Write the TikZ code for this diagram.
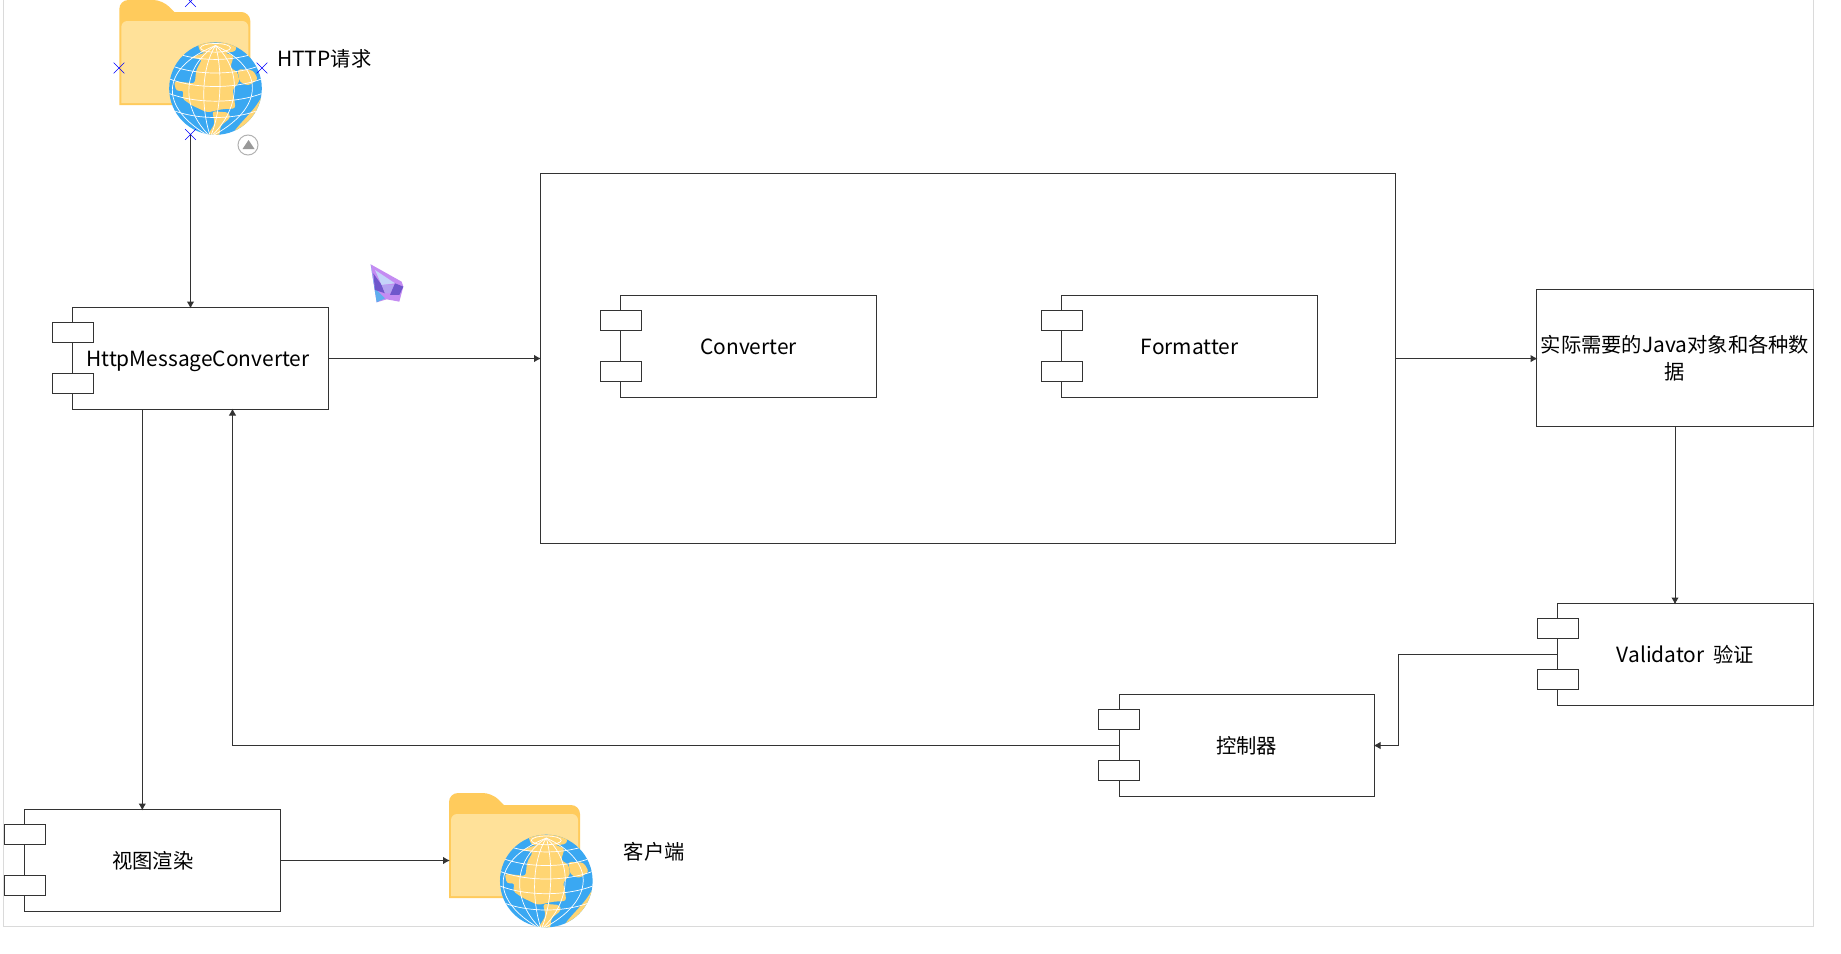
\documentclass[tikz,border=0pt]{standalone}
\usepackage{fontspec}
\setmainfont{Noto Sans CJK SC}
\newfontfamily\latinfont[Scale=1.03]{Noto Sans CJK SC}
\newcommand{\latn}[1]{{\latinfont #1}}
\usepackage{tikz}
\usetikzlibrary{arrows.meta, shapes.misc}

\definecolor{linegray}{HTML}{333333}
\definecolor{framegray}{HTML}{DADADA}
\definecolor{foldertab}{HTML}{FFCB5C}
\definecolor{folderface}{HTML}{FFE199}
\definecolor{landyellow}{HTML}{FFD573}
\definecolor{seablue}{HTML}{3AA8F2}
\definecolor{gemblue}{HTML}{5FAEEE}
\definecolor{gemdark}{HTML}{6F57CC}
\definecolor{gempink}{HTML}{C48CF2}
\definecolor{gempale}{HTML}{C4D4F9}
\definecolor{gemlav}{HTML}{B3A2F0}

\tikzset{
    compbox/.style={draw=linegray, line width=1pt, fill=white, minimum width=255.5pt, minimum height=102pt, inner sep=0pt, outer sep=0pt, text height=15.4pt, text depth=0pt},
    comptab/.style={draw=linegray, line width=1pt, fill=white, minimum width=40.5pt, minimum height=20pt, inner sep=0pt, outer sep=0pt},
    plainbox/.style={draw=linegray, line width=1pt, fill=white, inner sep=0pt, outer sep=0pt},
    conn/.style={draw=linegray, line width=1pt, shorten >=-1pt, -{Latex[length=7pt, width=7.5pt]}},
    iconbox/.style={minimum width=143pt, minimum height=133pt, inner sep=0pt, outer sep=0pt},
    handle/.style={cross out, draw=blue, line width=0.6pt, minimum size=10pt, inner sep=0pt},
    gridline/.style={white, line width=0.7pt},
}

\newcommand{\foldericon}[1]{
    \begin{scope}[shift={#1}]
        \fill[foldertab] (0, 105) [rounded corners=9pt] -- (0, 0) -- (43, 0) [sharp corners] -- (55, 12) [rounded corners=9pt] -- (131, 12) -- (131, 105) [sharp corners] -- cycle;
        \fill[folderface] (2, 103) [rounded corners=6pt] -- (2, 21) -- (129, 21) -- (129, 103) [sharp corners] -- cycle;
    \end{scope}
}

\newcommand{\globeicon}[1]{
    \begin{scope}[shift={#1}, scale=0.3333]
        \fill[seablue] (0, 0) circle (139);
        \begin{scope}
            \clip (0, 0) circle (139);
            \fill[landyellow, rounded corners=3pt] (-78, -92) -- (-40, -88) -- (-58, -55) -- (-62, -15) -- (-125, -22) -- (-118, 8) -- (-95, 6) -- (-100, 30) -- (-72, 50) -- (-25, 72) -- (20, 62) -- (60, 60) -- (56, 30) -- (50, 5) -- (72, -20) -- (66, -50) -- (44, -62) -- (55, -98) -- (0, -118) -- cycle;
            \fill[landyellow, rounded corners=3pt] (-55, -138) -- (62, -138) -- (62, -112) -- (20, -105) -- (-45, -108) -- cycle;
            \fill[landyellow, rounded corners=3pt] (66, -58) -- (112, -55) -- (128, -28) -- (98, -8) -- (72, -20) -- cycle;
            \fill[landyellow, rounded corners=3pt] (-10, 68) -- (40, 72) -- (45, 88) -- (15, 112) -- (12, 142) -- (-25, 142) -- (-2, 105) -- cycle;
            \fill[landyellow] (145, 10) .. controls (120, 70) and (80, 90) .. (45, 145) -- (150, 145) -- cycle;
            \foreach \rx in {-170, -104, -44, 20, 78, 150} {
                \draw[gridline] (0, -129) .. controls (\rx, -60) and (\rx, 60) .. (-15, 145);
            }
            \draw[gridline] (0, -122) ellipse (45 and 13);
            \foreach \ys/\ym in {-115/-78, -72/-38, -30/2, 14/46, 60/96} {
                \draw[gridline] (-142, \ys) .. controls (-60, \ym) and (60, \ym) .. (142, \ys);
            }
        \end{scope}
    \end{scope}
}

\begin{document}
\begin{tikzpicture}[x=1pt, y=-1pt, font=\fontsize{20.3}{26.6}\selectfont]
    \useasboundingbox (0, 0) rectangle (1841, 953);
    \fill[white] (0, 0) rectangle (1841, 953);
    \draw[framegray, line width=1pt] (3.5, 0) -- (3.5, 926) -- (1813.7, 926) -- (1813.7, 0);

    % boxes
    \node[plainbox, minimum width=855pt, minimum height=370pt] (bigbox) at (967.5, 358.6) {};
    \node[plainbox, minimum width=277pt, minimum height=136.7pt, text width=272pt, align=center] (javabox) at (1675, 358) {\raisebox{-2.3pt}{实际需要的\latn{Java}对象和各种数}\\\raisebox{-2.3pt}{据}};

    \node[compbox] (httpbox) at (200.7, 358.5) {\hspace*{-5.6pt}\latn{HttpMessageConverter}};
    \node[compbox] (converterbox) at (748.5, 346.5) {\latn{Converter}};
    \node[compbox] (formatterbox) at (1189.5, 346.5) {\latn{Formatter}};
    \node[compbox] (validatorbox) at (1685.5, 654.5) {\latn{Validator}\ \ 验证};
    \node[compbox] (controlbox) at (1246.8, 745.5) {控制器};
    \node[compbox] (viewbox) at (152.7, 860.5) {视图渲染};

    \foreach \b in {httpbox, converterbox, formatterbox, validatorbox, controlbox, viewbox} {
        \node[comptab, yshift=26pt] (\b tabtop) at (\b.west) {};
        \node[comptab, yshift=-25pt] (\b tabbottom) at (\b.west) {};
    }

    % icons
    \node[iconbox] (httpicon) at (190.5, 68) {};
    \node[iconbox] (clienticon) at (520.5, 859.5) {};
    \foldericon{(119.3, 0)}
    \globeicon{(215.5, 88.5)}
    \foldericon{(449, 793)}
    \globeicon{(546.3, 881)}

    \foreach \a in {north, west, east, south} {
        \node[handle] (handle\a) at (httpicon.\a) {};
    }

    \node[anchor=west, inner sep=0pt] (httplabel) at (277, 58.5) {\latn{HTTP}请求};
    \node[anchor=west, inner sep=0pt] (clientlabel) at (623.5, 852) {客户端};

    % arrows
    \coordinate (downport) at (142.3, 409.5);
    \coordinate (backport) at (232.5, 409.5);
    \coordinate (valturn) at (1398.3, 654.5);

    \draw[conn] (httpicon.south) -- (httpicon.south |- httpbox.north);
    \draw[conn] (httpbox.east) -- (httpbox.east -| bigbox.west);
    \draw[conn] (bigbox.east) -- (bigbox.east -| javabox.west);
    \draw[conn] (javabox.south) -- (javabox.south |- validatorbox.north);
    \draw[conn] (validatorbox.west) -- (valturn) |- (controlbox.east);
    \draw[conn] (controlbox.west) -| (backport);
    \draw[conn] (downport) -- (downport |- viewbox.north);
    \draw[conn] (viewbox.east) -- (viewbox.east -| clienticon.west);

    % collapse button
    \node[circle, draw=black!30, line width=1pt, minimum size=20pt, inner sep=0pt] (collapsebtn) at (248, 145) {};
    \fill[black!40] (242.5, 149) -- (254.5, 149) -- (248.5, 140) -- cycle;

    % cursor
    \begin{scope}[shift={(340, 230)}, scale=0.3333]
        \fill[gempink] (92, 103) -- (185, 155) -- (190, 170) -- (178, 215) -- (140, 208) -- (110, 217) -- cycle;
        \fill[gemblue] (92, 103) -- (110, 217) -- (135, 205) -- (105, 175) -- cycle;
        \fill[gemdark] (100, 130) -- (105, 180) -- (135, 190) -- (125, 165) -- cycle;
        \fill[gempale] (105, 120) -- (165, 160) -- (125, 165) -- cycle;
        \fill[gemlav] (125, 165) -- (165, 165) -- (150, 190) -- (135, 190) -- cycle;
        \fill[gemdark] (165, 160) -- (190, 170) -- (178, 195) -- (150, 195) -- cycle;
    \end{scope}
\end{tikzpicture}
\end{document}
